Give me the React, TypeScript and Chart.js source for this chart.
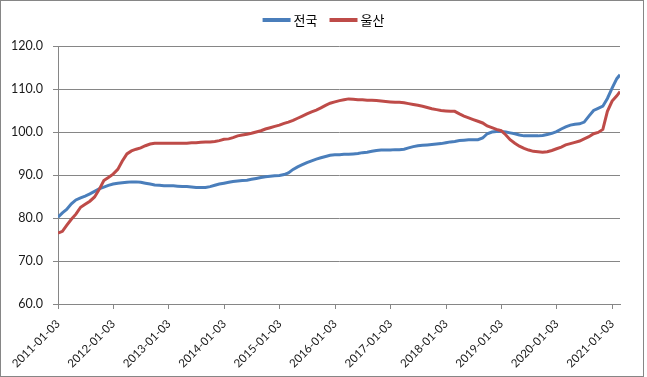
import { useEffect, useRef } from "react";
import { Chart, registerables } from "chart.js";

Chart.register(...registerables);

const seriesNames = ["전국", "울산"];

const tickLabels = [
  "2011-01-03", "2012-01-03", "2013-01-03", "2014-01-03", "2015-01-03", "2016-01-03",
  "2017-01-03", "2018-01-03", "2019-01-03", "2020-01-03", "2021-01-03",
];

const dates = [
  "2011-01-03", "2011-02-01", "2011-03-01", "2011-04-01", "2011-05-01", "2011-06-01", "2011-07-01", "2011-08-01", "2011-09-01", "2011-10-01", "2011-11-01", "2011-12-01",
  "2012-01-01", "2012-02-01", "2012-03-01", "2012-04-01", "2012-05-01", "2012-06-01", "2012-07-01", "2012-08-01", "2012-09-01", "2012-10-01", "2012-11-01", "2012-12-01",
  "2013-01-01", "2013-02-01", "2013-03-01", "2013-04-01", "2013-05-01", "2013-06-01", "2013-07-01", "2013-08-01", "2013-09-01", "2013-10-01", "2013-11-01", "2013-12-01",
  "2014-01-01", "2014-02-01", "2014-03-01", "2014-04-01", "2014-05-01", "2014-06-01", "2014-07-01", "2014-08-01", "2014-09-01", "2014-10-01", "2014-11-01", "2014-12-01",
  "2015-01-01", "2015-02-01", "2015-03-01", "2015-04-01", "2015-05-01", "2015-06-01", "2015-07-01", "2015-08-01", "2015-09-01", "2015-10-01", "2015-11-01", "2015-12-01",
  "2016-01-01", "2016-02-01", "2016-03-01", "2016-04-01", "2016-05-01", "2016-06-01", "2016-07-01", "2016-08-01", "2016-09-01", "2016-10-01", "2016-11-01", "2016-12-01",
  "2017-01-01", "2017-02-01", "2017-03-01", "2017-04-01", "2017-05-01", "2017-06-01", "2017-07-01", "2017-08-01", "2017-09-01", "2017-10-01", "2017-11-01", "2017-12-01",
  "2018-01-01", "2018-02-01", "2018-03-01", "2018-04-01", "2018-05-01", "2018-06-01", "2018-07-01", "2018-08-01", "2018-09-01", "2018-10-01", "2018-11-01", "2018-12-01",
  "2019-01-01", "2019-02-01", "2019-03-01", "2019-04-01", "2019-05-01", "2019-06-01", "2019-07-01", "2019-08-01", "2019-09-01", "2019-10-01", "2019-11-01", "2019-12-01",
  "2020-01-01", "2020-02-01", "2020-03-01", "2020-04-01", "2020-05-01", "2020-06-01", "2020-07-01", "2020-08-01", "2020-09-01", "2020-10-01", "2020-11-01", "2020-12-01",
  "2021-01-01", "2021-02-01", "2021-02-22",
];

const nationwide = [
  80.2, 81.2, 82.0, 83.3, 84.2, 84.7, 85.1, 85.6, 86.2, 86.8, 87.2, 87.6,
  87.9, 88.1, 88.2, 88.3, 88.4, 88.4, 88.3, 88.1, 87.9, 87.7, 87.6, 87.5,
  87.5, 87.5, 87.4, 87.3, 87.3, 87.2, 87.1, 87.1, 87.1, 87.3, 87.6, 87.9,
  88.1, 88.3, 88.5, 88.6, 88.7, 88.8, 89.0, 89.2, 89.4, 89.6, 89.7, 89.8,
  89.9, 90.1, 90.5, 91.3, 91.9, 92.4, 92.9, 93.3, 93.7, 94.0, 94.3, 94.6,
  94.7, 94.7, 94.8, 94.8, 94.9, 95.0, 95.2, 95.3, 95.5, 95.7, 95.8, 95.8,
  95.8, 95.9, 95.9, 96.0, 96.3, 96.6, 96.8, 96.9, 97.0, 97.1, 97.2, 97.3,
  97.5, 97.7, 97.8, 98.0, 98.1, 98.2, 98.2, 98.2, 98.6, 99.6, 100.0, 100.1,
  100.1, 100.0, 99.8, 99.6, 99.3, 99.1, 99.1, 99.1, 99.1, 99.2, 99.4, 99.7,
  100.1, 100.7, 101.2, 101.6, 101.8, 101.9, 102.3, 103.7, 105.0, 105.5, 106.0, 107.8,
  110.2, 112.4, 113.3,
];

const ulsan = [
  76.5, 76.9, 78.3, 79.7, 80.9, 82.5, 83.2, 83.9, 84.9, 86.6, 88.7, 89.4,
  90.2, 91.3, 93.2, 94.9, 95.6, 96.0, 96.3, 96.8, 97.2, 97.4, 97.4, 97.4,
  97.4, 97.4, 97.4, 97.4, 97.4, 97.5, 97.5, 97.6, 97.7, 97.7, 97.8, 98.0,
  98.3, 98.4, 98.7, 99.1, 99.3, 99.5, 99.7, 100.0, 100.3, 100.7, 101.0, 101.3,
  101.6, 102.0, 102.3, 102.7, 103.2, 103.7, 104.2, 104.7, 105.1, 105.6, 106.2, 106.7,
  107.0, 107.3, 107.5, 107.7, 107.6, 107.5, 107.5, 107.4, 107.4, 107.3, 107.2, 107.1,
  107.0, 106.9, 106.9, 106.8, 106.6, 106.4, 106.2, 106.0, 105.7, 105.4, 105.2, 105.0,
  104.9, 104.8, 104.8, 104.2, 103.7, 103.3, 102.9, 102.5, 102.1, 101.4, 101.0, 100.6,
  100.3, 99.3, 98.2, 97.4, 96.7, 96.2, 95.8, 95.5, 95.4, 95.3, 95.4, 95.7,
  96.1, 96.5, 97.0, 97.3, 97.6, 97.9, 98.4, 98.9, 99.6, 99.9, 100.6, 104.8,
  107.2, 108.4, 109.4,
];

const colors = ["#4a7ebb", "#be4b48"];

const DAY = 86400000;
const BASE = Date.UTC(2011, 0, 3);
function toDays(s: string): number {
  const [y, m, d] = s.split("-").map(Number);
  return (Date.UTC(y, m - 1, d) - BASE) / DAY;
}

const legendPlugin = {
  id: "topLegend",
  afterDraw(chart: any) {
    const ctx = chart.ctx as CanvasRenderingContext2D;
    ctx.save();
    ctx.font = "13px 'Noto Sans CJK KR'";
    const sw = 28;
    const gap = 3;
    const itemGap = 12;
    const items = chart.data.datasets.map((ds: any) => ({
      label: ds.label as string,
      color: ds.borderColor as string,
      w: sw + gap + ctx.measureText(ds.label).width,
    }));
    const total = items.reduce((a: number, it: any) => a + it.w, 0) + itemGap * (items.length - 1);
    let x = (chart.width - total) / 2;
    const y = 20;
    for (const it of items) {
      ctx.strokeStyle = it.color;
      ctx.lineWidth = 4;
      ctx.beginPath();
      ctx.moveTo(x, y);
      ctx.lineTo(x + sw, y);
      ctx.stroke();
      ctx.fillStyle = "#000";
      ctx.textBaseline = "middle";
      ctx.textAlign = "left";
      ctx.fillText(it.label, x + sw + gap, y);
      x += it.w + itemGap;
    }
    ctx.restore();
  },
};

export default function App() {
  const ref = useRef<HTMLCanvasElement | null>(null);

  useEffect(() => {
    if (!ref.current) return;
    const tickDays = tickLabels.map(toDays);
    const xs = dates.map(toDays);
    const chart = new Chart(ref.current, {
      type: "line",
      data: {
        datasets: [
          {
            label: seriesNames[0],
            data: xs.map((x, i) => ({ x, y: nationwide[i] })),
            borderColor: colors[0],
            backgroundColor: colors[0],
            borderWidth: 3,
            pointRadius: 0,
            tension: 0,
            order: 1,
          },
          {
            label: seriesNames[1],
            data: xs.map((x, i) => ({ x, y: ulsan[i] })),
            borderColor: colors[1],
            backgroundColor: colors[1],
            borderWidth: 3,
            pointRadius: 0,
            tension: 0,
            order: 0,
          },
        ],
      },
      options: {
        responsive: false,
        animation: false,
        layout: { padding: { top: 46, right: 27, left: 0, bottom: 0 } },
        plugins: {
          legend: { display: false },
          tooltip: { enabled: false },
        },
        scales: {
          x: {
            type: "linear",
            min: 0,
            max: xs[xs.length - 1],
            afterFit: (s: any) => {
              s.height = 73;
            },
            afterBuildTicks: (s: any) => {
              s.ticks = tickDays.map((v) => ({ value: v }));
            },
            ticks: {
              autoSkip: false,
              minRotation: 45,
              maxRotation: 45,
              padding: 8,
              color: "#1a1a1a",
              font: { family: "Lato", size: 11.5 },
              callback: (v: any) => {
                const i = tickDays.indexOf(Number(v));
                return i >= 0 ? tickLabels[i] : "";
              },
            },
            grid: {
              drawOnChartArea: false,
              drawTicks: true,
              tickLength: 5,
              color: "#868686",
            },
            border: { display: true, color: "#868686", width: 1 },
          },
          y: {
            min: 60,
            max: 120,
            afterFit: (s: any) => {
              s.width = 58;
            },
            ticks: {
              stepSize: 10,
              padding: 10,
              color: "#1a1a1a",
              font: { family: "Lato", size: 12.5 },
              callback: (v: any) => Number(v).toFixed(1),
            },
            grid: {
              color: "#868686",
              drawTicks: true,
              tickLength: 5,
            },
            border: { display: true, color: "#868686", width: 1 },
          },
        },
      },
      plugins: [legendPlugin],
    });
    return () => chart.destroy();
  }, []);

  return (
    <div style={{ position: "fixed", left: 0, top: 0, width: 647, height: 377, background: "#fff" }}>
      <canvas ref={ref} width={647} height={377} style={{ width: 647, height: 377, display: "block" }} />
      <div
        style={{
          position: "absolute",
          left: 0,
          top: 0,
          width: 644,
          height: 377,
          boxSizing: "border-box",
          border: "1px solid #868686",
          pointerEvents: "none",
        }}
      />
    </div>
  );
}
